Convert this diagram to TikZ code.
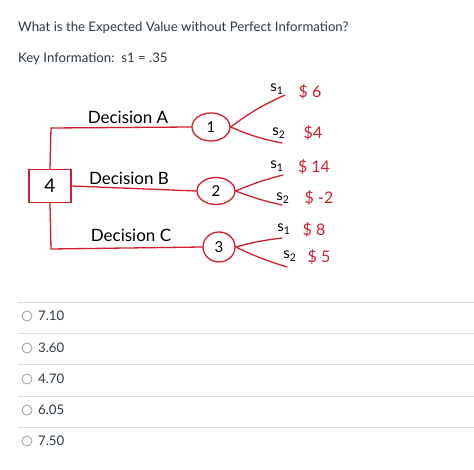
\documentclass[tikz,border=0pt]{standalone}
\usepackage{fontspec}
\setmainfont{Lato}
\usetikzlibrary{shapes.geometric}
\definecolor{hred}{HTML}{D21F2E}
\definecolor{uitext}{HTML}{2D3B45}
\definecolor{rule}{HTML}{DADDE0}
\definecolor{radio}{HTML}{8A9299}
\tikzset{
  ui/.style={anchor=base west, inner sep=0pt, text=uitext, font=\fontsize{13.2}{15}\selectfont},
  hand/.style={inner sep=0pt, text=black, font=\fontsize{17}{19}\selectfont},
  sval/.style={inner sep=0pt, text=black, font=\fontsize{15}{17}\selectfont},
  money/.style={inner sep=0pt, text=hred, font=\fontsize{16}{18}\selectfont},
  wire/.style={draw=hred, line width=1.3pt, line cap=round},
  chance/.style={ellipse, draw=hred, line width=1.3pt, inner sep=0pt, font=\fontsize{15}{17}\selectfont},
  decbox/.style={rectangle, draw=hred, line width=1.3pt, minimum width=42pt, minimum height=33pt, inner sep=0pt, font=\fontsize{19}{21}\selectfont},
  hline/.style={draw=rule, line width=0.8pt},
  radiob/.style={circle, draw=radio, line width=0.7pt, minimum size=10pt, inner sep=0pt},
}
\begin{document}
\begin{tikzpicture}[x=1pt,y=-1pt]
\useasboundingbox (0,0) rectangle (474,470);
\fill[white] (0,0) rectangle (474,470);
% header text
\node[ui] (q) at (18,32) {What is the Expected Value without Perfect Information?};
\node[ui] (key) at (18,63) {Key Information:\ \ s1 = .35};
% decision tree
\node[decbox] (box) at (50,186) {4};
\node[chance, minimum width=38pt, minimum height=28pt] (c1) at (211,127) {1};
\node[chance, minimum width=38pt, minimum height=27pt] (c2) at (216,191) {2};
\node[chance, minimum width=32pt, minimum height=30pt] (c3) at (219,247) {3};
\coordinate (ctop) at (51,128);
\coordinate (cbot) at (51,249);
\draw[wire] (box.north) -- (ctop) -- (c1.west);
\draw[wire] (box.east) -- (c2.west);
\draw[wire] (box.south) -- (cbot) -- (c3.west);
\coordinate (e1a) at (285,95);
\coordinate (e1b) at (282,143);
\coordinate (e2a) at (283,175);
\coordinate (e2b) at (282,205);
\coordinate (e3a) at (282,238);
\coordinate (e3b) at (287,267);
\draw[wire] (c1.east) to[bend left=6] (e1a);
\draw[wire] (c1.east) to[bend right=6] (e1b);
\draw[wire] (c2.east) to[bend left=4] (e2a);
\draw[wire] (c2.east) to[bend right=4] (e2b);
\draw[wire] (c3.east) to[bend left=4] (e3a);
\draw[wire] (c3.east) to[bend right=4] (e3b);
\node[hand] (da) at (128,117) {Decision A};
\node[hand] (db) at (129,178) {Decision B};
\node[hand] (dc) at (131,235) {Decision C};
\node[sval] (s1a) at (277,89) {s\textsubscript{1}};
\node[money] (m1a) at (310,92) {\$ 6};
\node[sval] (s2a) at (279,133) {s\textsubscript{2}};
\node[money] (m1b) at (313,133) {\$4};
\node[sval] (s1b) at (277,166) {s\textsubscript{1}};
\node[money] (m2a) at (314,167) {\$ 14};
\node[sval] (s2b) at (283,198) {s\textsubscript{2}};
\node[money] (m2b) at (319,198) {\$ -2};
\node[sval] (s1c) at (284,229) {s\textsubscript{1}};
\node[money] (m3a) at (314,230) {\$ 8};
\node[sval] (s2c) at (290,256) {s\textsubscript{2}};
\node[money] (m3b) at (319,257) {\$ 5};
% answer options
\draw[hline] (18,302) -- (474,302);
\draw[hline] (18,333) -- (474,333);
\draw[hline] (18,364) -- (474,364);
\draw[hline] (18,396) -- (474,396);
\draw[hline] (18,427) -- (474,427);
\node[radiob] (r1) at (27,316) {};
\node[radiob] (r2) at (27,348) {};
\node[radiob] (r3) at (27,379) {};
\node[radiob] (r4) at (27,410) {};
\node[radiob] (r5) at (27,441) {};
\node[ui] (o1) at (38,320.5) {7.10};
\node[ui] (o2) at (38,352.5) {3.60};
\node[ui] (o3) at (38,383.5) {4.70};
\node[ui] (o4) at (38,414.5) {6.05};
\node[ui] (o5) at (38,445.5) {7.50};
\end{tikzpicture}
\end{document}
